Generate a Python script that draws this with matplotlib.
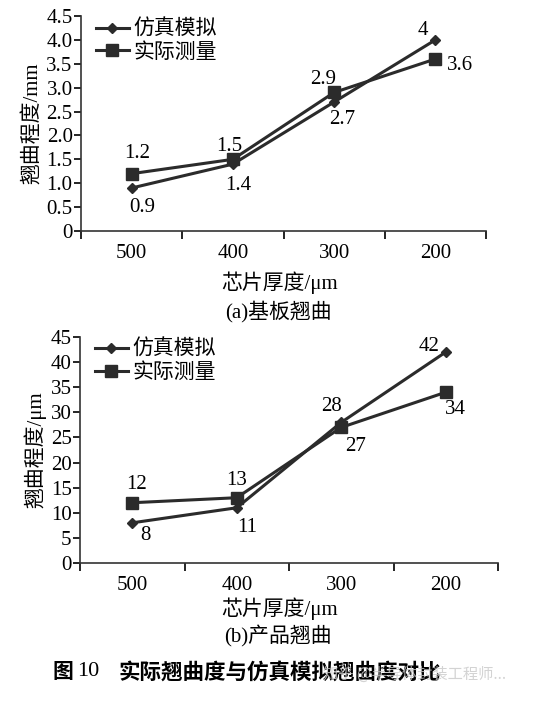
import matplotlib
matplotlib.use("Agg")
import matplotlib.pyplot as plt
from matplotlib.ticker import FixedLocator, NullFormatter

plt.rcParams['font.family'] = ['Liberation Serif', 'Noto Sans CJK SC', 'DejaVu Sans']
plt.rcParams['font.size'] = 15

thickness = ['500', '400', '300', '200']
sim_substrate = [0.9, 1.4, 2.7, 4.0]
meas_substrate = [1.2, 1.5, 2.9, 3.6]
sim_product = [8, 11, 28, 42]
meas_product = [12, 13, 27, 34]
sim_sub_labels = ['0.9', '1.4', '2.7', '4']
meas_sub_labels = ['1.2', '1.5', '2.9', '3.6']
sim_prod_labels = ['8', '11', '28', '42']
meas_prod_labels = ['12', '13', '27', '34']

W, H = 545, 701
fig = plt.figure(figsize=(W / 100, H / 100), dpi=100)
line_c = '#2b2b2b'
fs = 15


def px_axes(l, t, r, b):
    return fig.add_axes([l / W, 1 - b / H, (r - l) / W, (b - t) / H])


def draw_panel(ax, sim, meas, sim_lab, meas_lab, ymax, ystep, ydec,
               sim_off, meas_off):
    x = list(range(len(thickness)))
    ax.plot(x, sim, color=line_c, lw=2.2, marker='D', ms=5.5, label='仿真模拟')
    ax.plot(x, meas, color=line_c, lw=2.2, marker='s', ms=8.5, label='实际测量')
    for i in x:
        ax.annotate(sim_lab[i], (i, sim[i]), textcoords='offset pixels',
                    xytext=sim_off[i], ha='center', va='center', fontsize=fs)
        ax.annotate(meas_lab[i], (i, meas[i]), textcoords='offset pixels',
                    xytext=meas_off[i], ha='center', va='center', fontsize=fs)
    ax.set_xlim(-0.5, 3.5)
    ax.set_ylim(0, ymax)
    ax.set_xticks(x)
    ax.set_xticklabels(thickness)
    ax.tick_params(axis='x', which='major', length=0, pad=9, labelsize=fs)
    ax.xaxis.set_minor_locator(FixedLocator([-0.5, 0.5, 1.5, 2.5, 3.5]))
    ax.xaxis.set_minor_formatter(NullFormatter())
    ax.tick_params(axis='x', which='minor', length=6, width=1.2, direction='out')
    yt = [i * ystep for i in range(int(round(ymax / ystep)) + 1)]
    ax.set_yticks(yt)
    if ydec:
        ax.set_yticklabels(['0'] + ['%.1f' % v for v in yt[1:]])
    else:
        ax.set_yticklabels(['%d' % v for v in yt])
    ax.tick_params(axis='y', length=5, width=1.2, pad=1, labelsize=fs)
    for s in ['top', 'right']:
        ax.spines[s].set_visible(False)
    for s in ['left', 'bottom']:
        ax.spines[s].set_linewidth(1.2)
        ax.spines[s].set_color('#333333')
    leg = ax.legend(loc='upper left', bbox_to_anchor=(0.0, 1.05), frameon=False,
                    handlelength=1.6, handletextpad=0.2, labelspacing=0.15,
                    fontsize=fs, borderaxespad=0.3)
    return leg


ax1 = px_axes(81, 16, 486, 231)
draw_panel(ax1, sim_substrate, meas_substrate, sim_sub_labels, meas_sub_labels,
           4.5, 0.5, True,
           sim_off=[(11, -19), (5, -21), (8, -18), (-12, 9)],
           meas_off=[(6, 20), (-4, 13), (-11, 13), (25, -7)])
ax1.set_ylabel('翘曲程度/mm', fontsize=fs, labelpad=3)

ax2 = px_axes(80, 337, 498, 563)
draw_panel(ax2, sim_product, meas_product, sim_prod_labels, meas_prod_labels,
           45, 5, False,
           sim_off=[(13, -13), (10, -20), (-10, 16), (-17, 6)],
           meas_off=[(4, 18), (0, 17), (14, -19), (10, -17)])
ax2.set_ylabel('翘曲程度/μm', fontsize=fs, labelpad=3)

fig.text(280 / W, 1 - 283 / H, '芯片厚度/μm', ha='center', va='center', fontsize=fs)
fig.text(278 / W, 1 - 312 / H, '(a)基板翘曲', ha='center', va='center', fontsize=fs)
fig.text(280 / W, 1 - 609 / H, '芯片厚度/μm', ha='center', va='center', fontsize=fs)
fig.text(278 / W, 1 - 636 / H, '(b)产品翘曲', ha='center', va='center', fontsize=fs)

fig.text(52 / W, 1 - 672 / H, '图', ha='left', va='center', fontsize=15,
         family='Noto Sans CJK SC', weight='bold')
fig.text(77 / W, 1 - 672 / H, '10', ha='left', va='center', fontsize=16,
         family='Liberation Serif')
fig.text(118 / W, 1 - 672 / H, '实际翘曲度与仿真模拟翘曲度对比', ha='left', va='center',
         fontsize=15.5, family='Noto Sans CJK SC', weight='bold')
fig.text(323 / W, 1 - 674 / H, '知乎 @半导体封装工程师...', ha='left', va='center',
         fontsize=11, family='Noto Sans CJK SC', color='#c8c8c8', alpha=0.8)

fig.savefig('out.png', dpi=100)
